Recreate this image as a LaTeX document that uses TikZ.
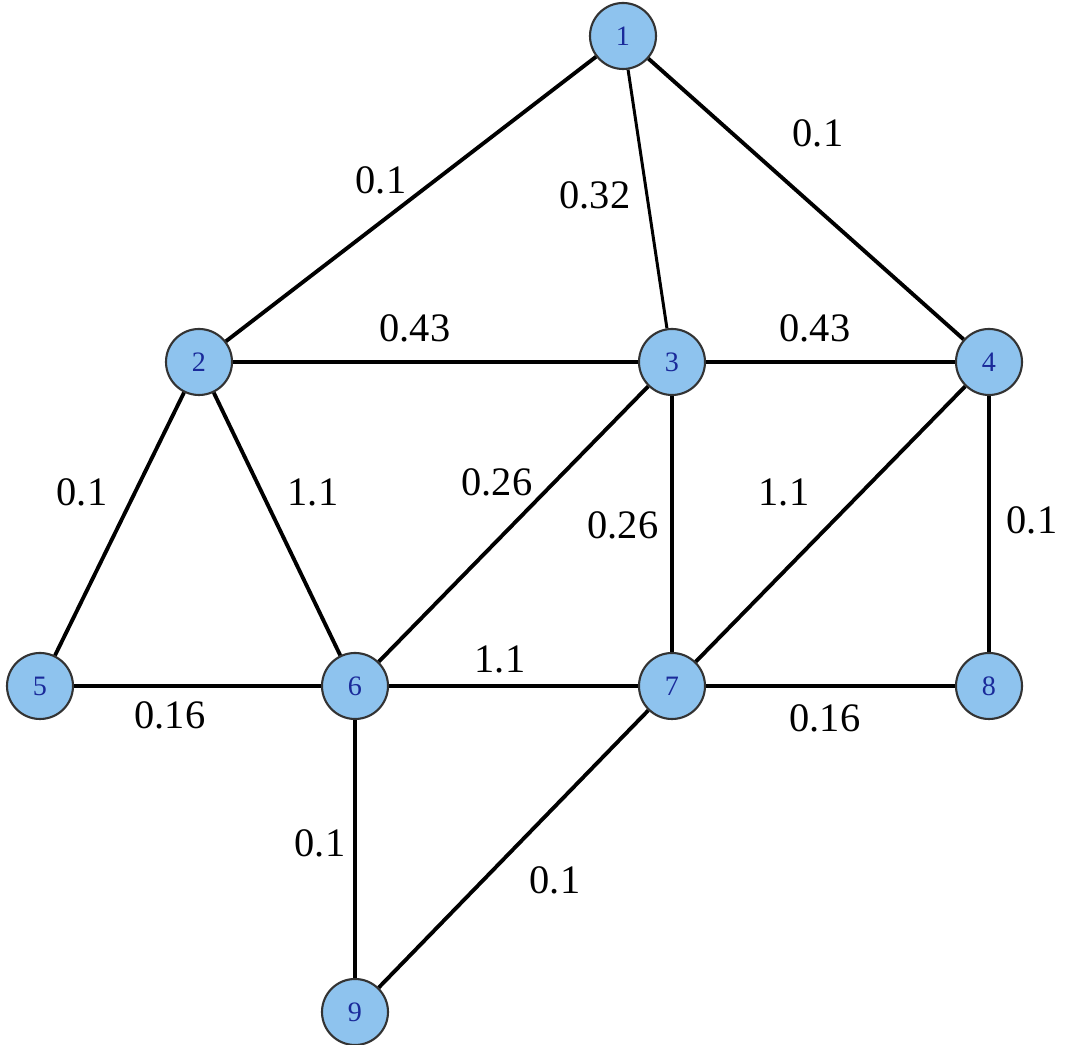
\documentclass[tikz,border=0pt]{standalone}
\usepackage{fontspec}
\setmainfont{Liberation Serif}
\definecolor{bleunoeud}{HTML}{8EC3EE}
\definecolor{bleuchiffre}{HTML}{1A2A9A}
\begin{document}
\begin{tikzpicture}
\tikzset{noeud/.style={draw=black!80, line width=1.2pt, circle, fill=bleunoeud, minimum size=1.32cm, inner sep=0pt, text=bleuchiffre, font=\rmfamily\fontsize{16}{18}\selectfont},
poids/.style={font=\rmfamily\fontsize{23}{26}\selectfont, inner sep=0pt},
arete/.style={line width=2.2pt}}
\useasboundingbox (0,0) rectangle (21.3,20.9);
\node[noeud] (V1) at (12.46, 20.18) {1};
\node[noeud] (V2) at (3.98, 13.66) {2};
\node[noeud] (V3) at (13.44, 13.66) {3};
\node[noeud] (V4) at (19.78, 13.66) {4};
\node[noeud] (V5) at (0.80, 7.18) {5};
\node[noeud] (V6) at (7.10, 7.18) {6};
\node[noeud] (V7) at (13.44, 7.18) {7};
\node[noeud] (V8) at (19.78, 7.18) {8};
\node[noeud] (V9) at (7.10, 0.66) {9};
\draw[arete] (V1) -- (V2);
\draw[arete, line width=1.7pt] (V1) -- (V3);
\draw[arete] (V1) -- (V4);
\draw[arete] (V2) -- (V3);
\draw[arete] (V3) -- (V4);
\draw[arete] (V2) -- (V5);
\draw[arete] (V2) -- (V6);
\draw[arete] (V3) -- (V6);
\draw[arete] (V3) -- (V7);
\draw[arete] (V4) -- (V7);
\draw[arete] (V4) -- (V8);
\draw[arete] (V5) -- (V6);
\draw[arete] (V6) -- (V7);
\draw[arete] (V7) -- (V8);
\draw[arete] (V6) -- (V9);
\draw[arete] (V7) -- (V9);
\node[poids] (P12) at (7.62, 17.3) {0.1};
\node[poids] (P13) at (11.9, 17.0) {0.32};
\node[poids] (P14) at (16.36, 18.24) {0.1};
\node[poids] (P23) at (8.3, 14.34) {0.43};
\node[poids] (P34) at (16.3, 14.34) {0.43};
\node[poids] (P25) at (1.64, 11.06) {0.1};
\node[poids] (P26) at (6.26, 11.06) {1.1};
\node[poids] (P36) at (9.94, 11.26) {0.26};
\node[poids] (P37) at (12.46, 10.4) {0.26};
\node[poids] (P47) at (15.68, 11.06) {1.1};
\node[poids] (P48) at (20.64, 10.5) {0.1};
\node[poids] (P67) at (10.0, 7.72) {1.1};
\node[poids] (P56) at (3.4, 6.6) {0.16};
\node[poids] (P78) at (16.5, 6.54) {0.16};
\node[poids] (P69) at (6.4, 4.04) {0.1};
\node[poids] (P79) at (11.1, 3.3) {0.1};
\end{tikzpicture}
\end{document}
